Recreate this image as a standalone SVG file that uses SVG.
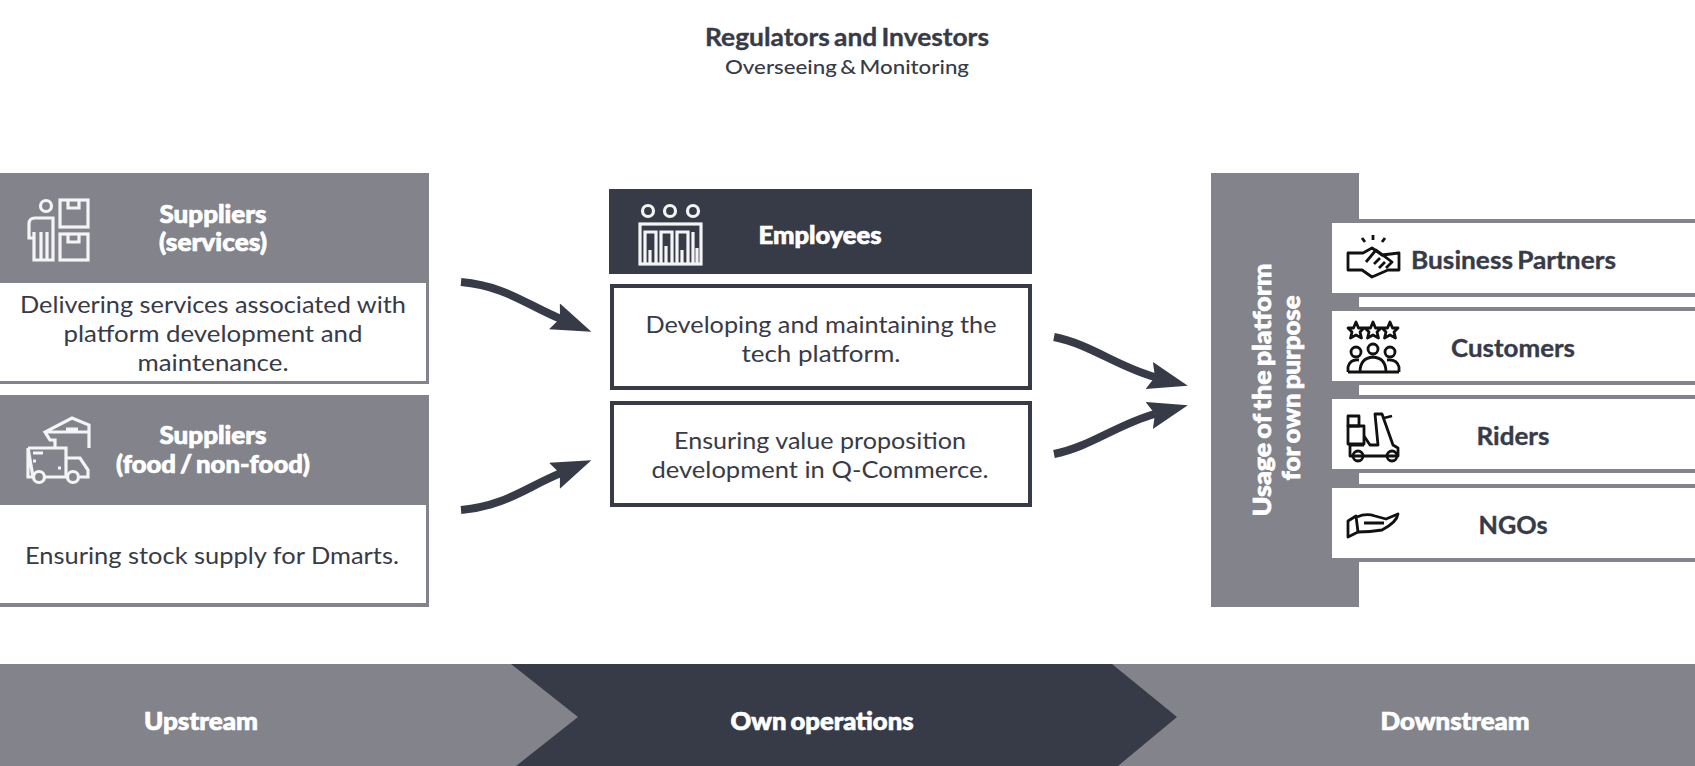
<svg xmlns="http://www.w3.org/2000/svg" width="1695" height="766" viewBox="0 0 1695 766">
<style>
text{font-family:"Lato","Noto Sans","Liberation Sans",sans-serif;text-anchor:middle}
.d{fill:#373b47}.g{fill:#83838b}.w{fill:#fff}
.t{font-size:24px;fill:#373b47}
.h{font-size:24px;font-weight:900;fill:#fff;stroke:#fff;stroke-width:.7;word-spacing:-2px}
.b{font-size:24px;font-weight:700;fill:#373b47;stroke:#373b47;stroke-width:.35;word-spacing:-2px}
.box{fill:#fff;stroke:#373b47;stroke-width:4}
.row{fill:#fff}
.iw{fill:none;stroke:#f4f4f6;stroke-width:3.2}
.ik{fill:none;stroke:#111;stroke-width:2.8;stroke-linejoin:round}
.c{fill:none;stroke:#373b47;stroke-width:8}
</style>
<defs>
<marker id="ah" markerUnits="userSpaceOnUse" markerWidth="42" markerHeight="30" refX="6" refY="14" orient="auto"><path d="M0 0L40 14L0 28L6 14Z" fill="#373b47"/></marker>
</defs>
<rect width="1695" height="766" fill="#fff"/>
<g id="title">
<text x="847" y="46" class="b" textLength="284" lengthAdjust="spacingAndGlyphs">Regulators and Investors</text>
<text x="847" y="74" style="font-size:20px;font-weight:500;fill:#373b47;word-spacing:-2px" textLength="244" lengthAdjust="spacingAndGlyphs">Overseeing &amp; Monitoring</text>
</g>
<g id="supplier-services">
<rect y="173" width="429" height="106" class="g"/>
<rect y="279" width="429" height="105" class="g"/>
<rect y="283" width="426" height="98" class="w"/>
<g class="iw">
<circle cx="46" cy="206" r="5.500"/>
<path d="M35 218H53V260H41V232M47 232V260M35 218Q29 218 29 224V238H34V260H41M34 232V238"/>
<rect x="60" y="200" width="28" height="27"/><path d="M68 200V208H79V200"/>
<rect x="60" y="234" width="28" height="26"/><path d="M68 234V242H79V234"/>
</g>
<text x="213" y="223" class="h" textLength="107" lengthAdjust="spacingAndGlyphs">Suppliers</text>
<text x="213" y="251" class="h" textLength="108" lengthAdjust="spacingAndGlyphs">(services)</text>
<text x="213" y="313" class="t" textLength="386" lengthAdjust="spacingAndGlyphs">Delivering services associated with</text>
<text x="213" y="342" class="t" textLength="299" lengthAdjust="spacingAndGlyphs">platform development and</text>
<text x="213" y="371" class="t" textLength="151" lengthAdjust="spacingAndGlyphs">maintenance.</text>
</g>
<g id="supplier-food">
<rect y="395" width="429" height="107" class="g"/>
<rect y="502" width="429" height="105" class="g"/>
<rect y="505" width="426" height="98" class="w"/>
<g class="iw">
<path d="M55 447V440H50L45 432L72 418L89 425V448M46 432H89M66 429H78"/>
<path d="M28 448H66V477H45M33 477H28V448ZM66 458H80L88 470V477H80M66 477H67"/>
<circle cx="39" cy="477" r="5.500"/><circle cx="73" cy="477" r="5.500"/>
<path d="M33 453H43M33 461H36M58 468H61"/>
</g>
<text x="213" y="444" class="h" textLength="107" lengthAdjust="spacingAndGlyphs">Suppliers</text>
<text x="213" y="473" class="h" textLength="194" lengthAdjust="spacingAndGlyphs">(food / non-food)</text>
<text x="212" y="564" class="t" textLength="374" lengthAdjust="spacingAndGlyphs">Ensuring stock supply for Dmarts.</text>
</g>
<g id="employees">
<rect x="609" y="189" width="423" height="85" class="d"/>
<g class="iw">
<circle cx="648" cy="211" r="5.500"/><circle cx="670" cy="211" r="5.500"/><circle cx="693" cy="211" r="5.500"/>
<rect x="640" y="224" width="61" height="40"/>
<path d="M645 264V232H656V264M650 264V250M661 264V232H672V264M666 264V246M677 264V232H688V264M682 264V250M693 264V232M697 264V248"/>
</g>
<text x="820" y="244" class="h" textLength="123" lengthAdjust="spacingAndGlyphs">Employees</text>
</g>
<g id="employee-platform">
<rect x="612" y="286" width="418" height="102" class="box"/>
<text x="821" y="333" class="t" textLength="351" lengthAdjust="spacingAndGlyphs">Developing and maintaining the</text>
<text x="821" y="362" class="t" textLength="159" lengthAdjust="spacingAndGlyphs">tech platform.</text>
</g>
<g id="employee-value">
<rect x="612" y="403" width="418" height="102" class="box"/>
<text x="820" y="449" class="t" textLength="292" lengthAdjust="spacingAndGlyphs">Ensuring value proposition</text>
<text x="820" y="478" class="t" textLength="337" lengthAdjust="spacingAndGlyphs">development in Q-Commerce.</text>
</g>
<g id="connectors">
<path class="c" d="M461 282C505 286 525 304 560 318.600" marker-end="url(#ah)"/>
<path class="c" d="M461 510C505 506 525 488 560 473.400" marker-end="url(#ah)"/>
<path class="c" d="M1054 337C1090 344 1118 367 1155 377" marker-end="url(#ah)"/>
<path class="c" d="M1054 454C1090 447 1118 424 1155 414" marker-end="url(#ah)"/>
</g>
<g id="usage">
<rect x="1211" y="173" width="148" height="434" class="g"/>
<text transform="translate(1271 390) rotate(-90)" class="h" textLength="253" lengthAdjust="spacingAndGlyphs">Usage of the platform</text>
<text transform="translate(1300 388) rotate(-90)" class="h" textLength="185" lengthAdjust="spacingAndGlyphs">for own purpose</text>
</g>
<g id="business-partners">
<rect x="1332" y="219" width="363" height="78" class="g"/><rect x="1332" y="223" width="363" height="70" class="row"/>
<g class="ik">
<path d="M1348 253H1363L1372 248L1382 255L1399 253V270H1388L1372 277L1362 270H1348Z"/>
<path d="M1366 262L1376 250L1392 262L1386 268M1380 258L1374 264M1385 262L1379 268"/>
<path d="M1362 238L1365 242M1373 235V240M1385 238L1382 242"/>
</g>
<text x="1513.500" y="269" class="b" textLength="205" lengthAdjust="spacingAndGlyphs">Business Partners</text>
</g>
<g id="customers">
<rect x="1332" y="307" width="363" height="78" class="g"/><rect x="1332" y="311" width="363" height="70" class="row"/>
<g class="ik">
<path d="M1356 322L1358.500 328H1364L1360 332L1361.500 338L1356 335L1350.500 338L1352 332L1348 328H1353.500Z"/>
<path d="M1373 322L1375.500 328H1381L1377 332L1378.500 338L1373 335L1367.500 338L1369 332L1365 328H1370.500Z"/>
<path d="M1390 322L1392.500 328H1398L1394 332L1395.500 338L1390 335L1384.500 338L1386 332L1382 328H1387.500Z"/>
<circle cx="1356" cy="352" r="5"/><circle cx="1373" cy="349" r="5"/><circle cx="1390" cy="352" r="5"/>
<path d="M1348 372V367Q1350 359 1359 360M1360 372Q1360 358 1373 357Q1386 358 1386 372M1399 372V367Q1397 359 1387 360M1348 372H1399"/>
</g>
<text x="1513" y="357" class="b" textLength="124" lengthAdjust="spacingAndGlyphs">Customers</text>
</g>
<g id="riders">
<rect x="1332" y="395" width="363" height="78" class="g"/><rect x="1332" y="399" width="363" height="70" class="row"/>
<g class="ik">
<rect x="1348" y="416" width="11" height="10"/><rect x="1348" y="426" width="16" height="18"/>
<path d="M1364 436L1370 445H1378L1375 414H1382L1393 445L1398 448V456H1350V445H1364M1384 418L1392 416"/>
<circle cx="1358" cy="456" r="5"/><circle cx="1392" cy="456" r="5"/>
</g>
<text x="1513" y="445" class="b" textLength="73" lengthAdjust="spacingAndGlyphs">Riders</text>
</g>
<g id="ngos">
<rect x="1332" y="484" width="363" height="78" class="g"/><rect x="1332" y="488" width="363" height="70" class="row"/>
<g class="ik">
<path d="M1348 521L1356 516L1358 532L1348 537Z"/>
<path d="M1357 517Q1366 513 1375 516L1386 519L1398 514Q1397 522 1382 530Q1370 532 1358 532M1364 523H1384"/>
</g>
<text x="1513" y="534" class="b" textLength="69" lengthAdjust="spacingAndGlyphs">NGOs</text>
</g>
<g id="value-chain">
<rect y="664" width="1695" height="102" class="g"/>
<path d="M511 664H1112L1177 717L1118 766H516L578 717Z" class="d"/>
<text x="201" y="730" class="h" textLength="114" lengthAdjust="spacingAndGlyphs">Upstream</text>
<text x="822" y="730" class="h" textLength="183" lengthAdjust="spacingAndGlyphs">Own operations</text>
<text x="1455" y="730" class="h" textLength="149" lengthAdjust="spacingAndGlyphs">Downstream</text>
</g>
</svg>
